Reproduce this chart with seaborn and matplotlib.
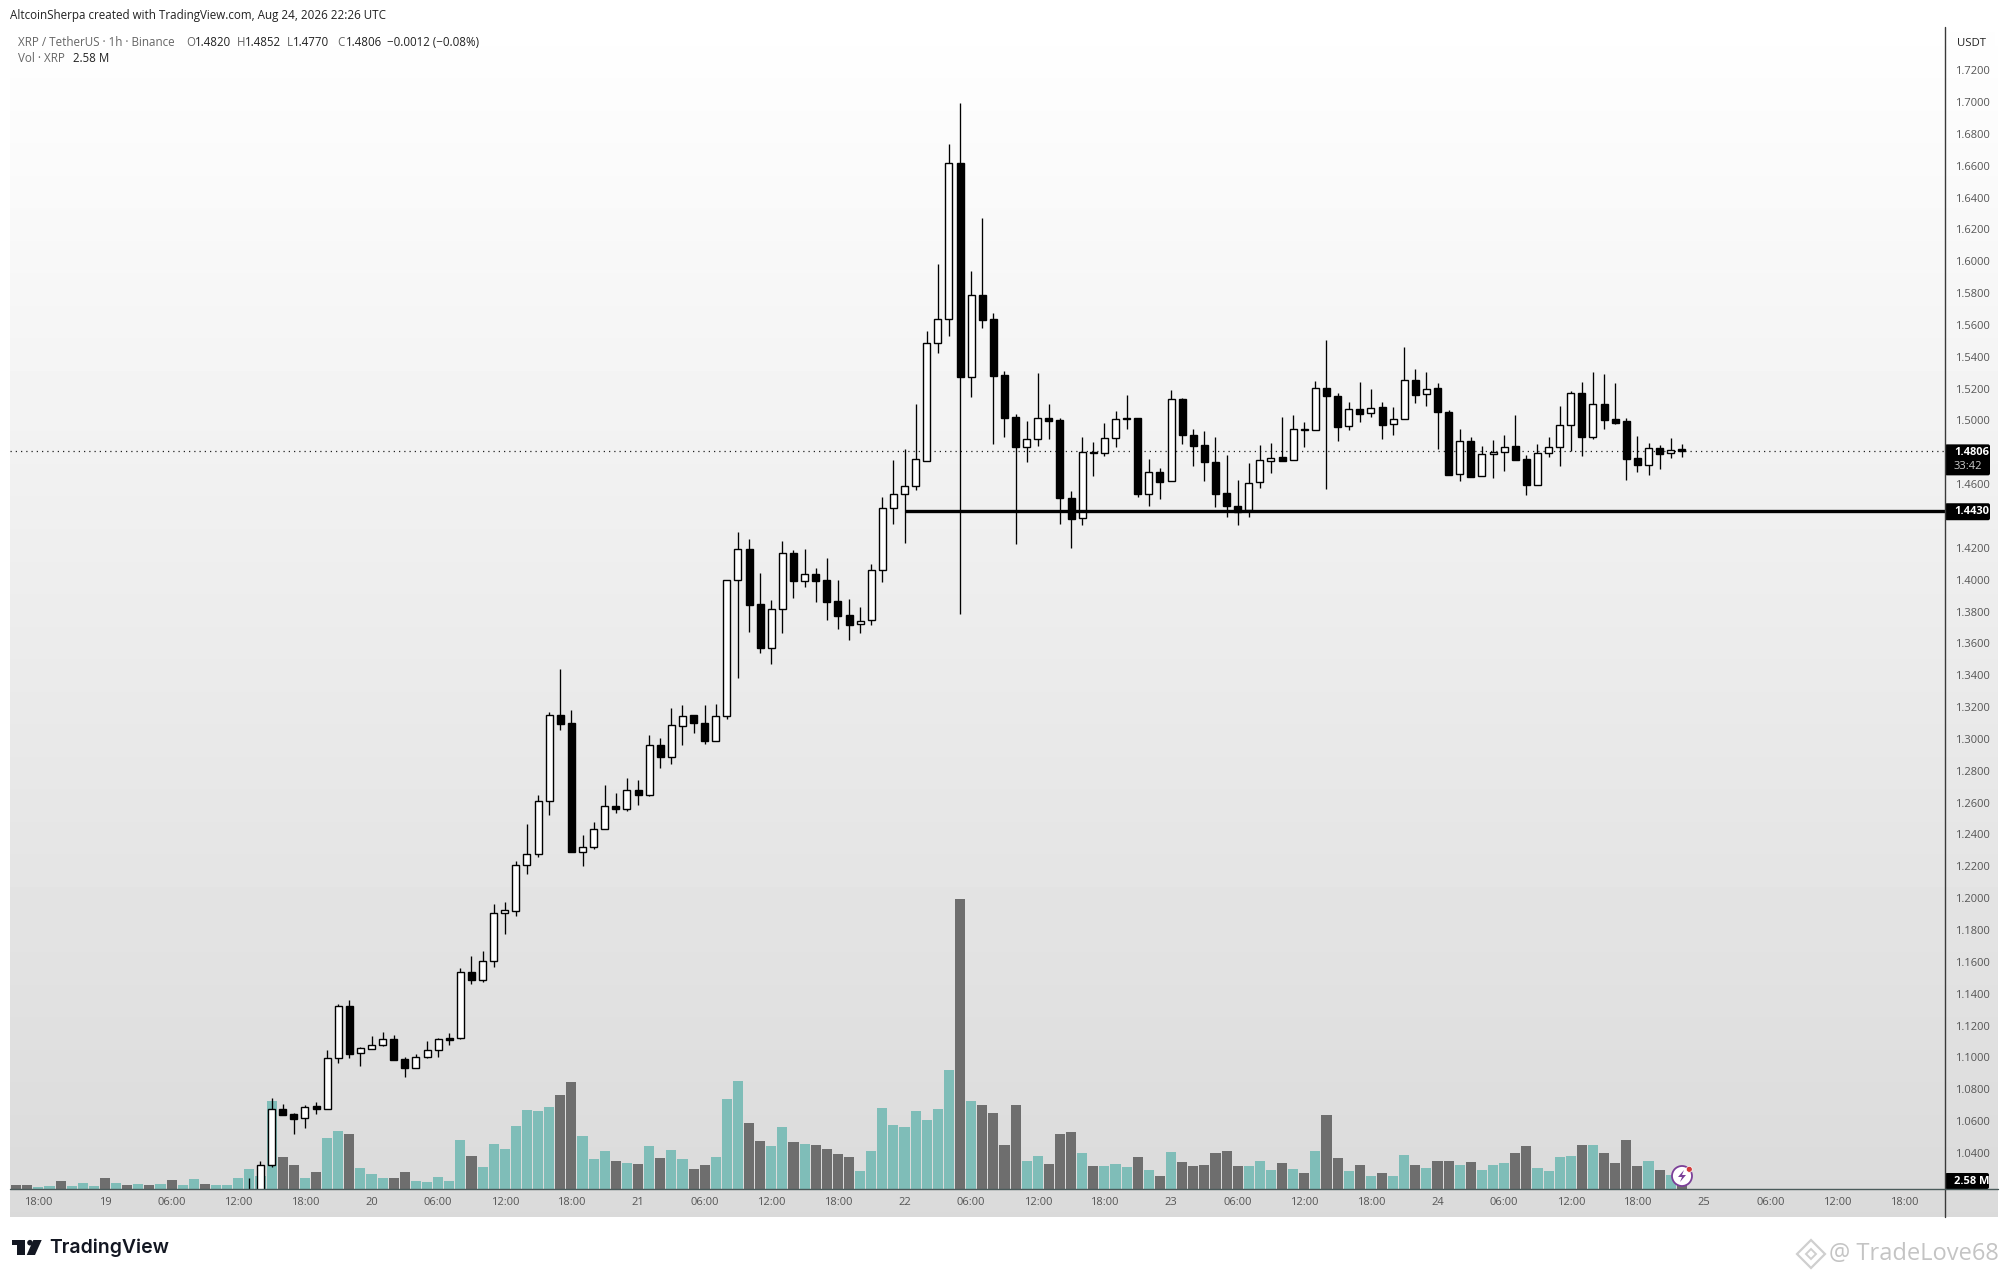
import numpy as np
import pandas as pd
import seaborn as sns
import matplotlib.pyplot as plt
from matplotlib.patches import Circle, FancyBboxPatch, Polygon

# candles start at hour 21, everything before sits under the visible range
first_candle = 21

opens = [
    1.0050, 1.0110, 1.0327, 1.0673, 1.0644, 1.0618, 1.0695, 1.0673, 1.0995, 1.1321,
    1.1026, 1.1054, 1.1076, 1.1114, 1.0988, 1.0935, 1.1001, 1.1045, 1.1122, 1.1120,
    1.1534, 1.1488, 1.1603, 1.1905, 1.1922, 1.2206, 1.2275, 1.2609, 1.3149, 1.3101,
    1.2292, 1.2319, 1.2433, 1.2576, 1.2559, 1.2680, 1.2651, 1.2961, 1.2889, 1.3084,
    1.3149, 1.3099, 1.2984, 1.3141, 1.3997, 1.4191, 1.3846, 1.3568, 1.3815, 1.4166,
    1.3995, 1.4034, 1.3997, 1.3867, 1.3779, 1.3724, 1.3745, 1.4058, 1.4451, 1.4540,
    1.4590, 1.4747, 1.5489, 1.5635, 1.6620, 1.5276, 1.5785, 1.5635, 1.5285, 1.5020,
    1.4834, 1.4881, 1.5018, 1.5002, 1.4516, 1.4390, 1.4798, 1.4798, 1.4888, 1.5016,
    1.5016, 1.4540, 1.4679, 1.4617, 1.5133, 1.4908, 1.4845, 1.4742, 1.4543, 1.4466,
    1.4439, 1.4612, 1.4747, 1.4771, 1.4750, 1.4940, 1.4938, 1.5202, 1.5152, 1.4963,
    1.5070, 1.5045, 1.5083, 1.4976, 1.5007, 1.5252, 1.5164, 1.5202, 1.5053, 1.4662,
    1.4871, 1.4649, 1.4788, 1.4800, 1.4838, 1.4756, 1.4597, 1.4794, 1.4836, 1.4970,
    1.5173, 1.4898, 1.5101, 1.5007, 1.4997, 1.4762, 1.4723, 1.4825, 1.4794, 1.4820,
]
highs = [
    1.0243, 1.0349, 1.0744, 1.0706, 1.0650, 1.0700, 1.0717, 1.1048, 1.1334, 1.1358,
    1.1063, 1.1136, 1.1158, 1.1140, 1.1003, 1.1021, 1.1103, 1.1125, 1.1153, 1.1559,
    1.1638, 1.1669, 1.1962, 1.1977, 1.2233, 1.2466, 1.2651, 1.3167, 1.3438, 1.3180,
    1.2398, 1.2480, 1.2711, 1.2660, 1.2755, 1.2743, 1.3025, 1.3009, 1.3195, 1.3216,
    1.3149, 1.3216, 1.3220, 1.3997, 1.4300, 1.4256, 1.4045, 1.3873, 1.4244, 1.4187,
    1.4195, 1.4072, 1.4139, 1.3999, 1.3879, 1.3831, 1.4099, 1.4518, 1.4751, 1.4819,
    1.5106, 1.5561, 1.5980, 1.6734, 1.6992, 1.5938, 1.6272, 1.5673, 1.5310, 1.5038,
    1.4996, 1.5299, 1.5101, 1.5016, 1.4556, 1.4895, 1.4863, 1.4985, 1.5061, 1.5159,
    1.5016, 1.4760, 1.4702, 1.5191, 1.5142, 1.4949, 1.4933, 1.4895, 1.4783, 1.4626,
    1.4733, 1.4843, 1.4859, 1.5022, 1.5034, 1.4991, 1.5248, 1.5505, 1.5175, 1.5116,
    1.5242, 1.5198, 1.5114, 1.5085, 1.5464, 1.5321, 1.5304, 1.5238, 1.5066, 1.4947,
    1.4896, 1.4842, 1.4878, 1.4909, 1.5034, 1.4783, 1.4852, 1.4896, 1.5091, 1.5187,
    1.5242, 1.5304, 1.5292, 1.5235, 1.5014, 1.4903, 1.4857, 1.4844, 1.4890, 1.4852,
]
lows = [
    1.0000, 1.0060, 1.0314, 1.0640, 1.0519, 1.0558, 1.0647, 1.0673, 1.0964, 1.0997,
    1.0948, 1.1052, 1.1070, 1.0986, 1.0878, 1.0933, 1.0999, 1.1004, 1.1078, 1.1118,
    1.1464, 1.1475, 1.1567, 1.1775, 1.1889, 1.2149, 1.2259, 1.2524, 1.3057, 1.2292,
    1.2204, 1.2308, 1.2433, 1.2535, 1.2546, 1.2586, 1.2642, 1.2820, 1.2843, 1.2963,
    1.3040, 1.2969, 1.2984, 1.3128, 1.3383, 1.3674, 1.3542, 1.3473, 1.3668, 1.3886,
    1.3957, 1.3863, 1.3748, 1.3691, 1.3624, 1.3664, 1.3716, 1.3984, 1.4350, 1.4231,
    1.4563, 1.4747, 1.5424, 1.5532, 1.3782, 1.5146, 1.5581, 1.4854, 1.4895, 1.4226,
    1.4742, 1.4841, 1.4886, 1.4350, 1.4202, 1.4343, 1.4650, 1.4778, 1.4832, 1.4949,
    1.4518, 1.4460, 1.4507, 1.4617, 1.4854, 1.4715, 1.4619, 1.4457, 1.4395, 1.4343,
    1.4395, 1.4579, 1.4671, 1.4746, 1.4750, 1.4836, 1.4938, 1.4572, 1.4873, 1.4940,
    1.4993, 1.5024, 1.4886, 1.4909, 1.5007, 1.5112, 1.5091, 1.4819, 1.4660, 1.4622,
    1.4643, 1.4649, 1.4641, 1.4683, 1.4752, 1.4534, 1.4597, 1.4771, 1.4716, 1.4808,
    1.4779, 1.4886, 1.4949, 1.4980, 1.4626, 1.4677, 1.4658, 1.4695, 1.4767, 1.4770,
]
closes = [
    1.0120, 1.0327, 1.0673, 1.0640, 1.0616, 1.0691, 1.0673, 1.0995, 1.1321, 1.1023,
    1.1056, 1.1076, 1.1114, 1.0986, 1.0935, 1.1001, 1.1045, 1.1114, 1.1112, 1.1534,
    1.1488, 1.1603, 1.1905, 1.1927, 1.2206, 1.2275, 1.2609, 1.3149, 1.3096, 1.2292,
    1.2319, 1.2433, 1.2576, 1.2557, 1.2678, 1.2651, 1.2961, 1.2889, 1.3086, 1.3143,
    1.3097, 1.2984, 1.3141, 1.3997, 1.4195, 1.3844, 1.3568, 1.3815, 1.4166, 1.3995,
    1.4034, 1.3995, 1.3863, 1.3775, 1.3718, 1.3743, 1.4059, 1.4451, 1.4540, 1.4590,
    1.4756, 1.5489, 1.5635, 1.6620, 1.5276, 1.5785, 1.5633, 1.5281, 1.5018, 1.4834,
    1.4881, 1.5018, 1.4998, 1.4516, 1.4383, 1.4805, 1.4805, 1.4888, 1.5007, 1.5007,
    1.4540, 1.4679, 1.4614, 1.5133, 1.4910, 1.4841, 1.4740, 1.4540, 1.4462, 1.4428,
    1.4610, 1.4749, 1.4767, 1.4746, 1.4944, 1.4944, 1.5202, 1.5156, 1.4961, 1.5070,
    1.5043, 1.5081, 1.4974, 1.5007, 1.5252, 1.5162, 1.5200, 1.5055, 1.4660, 1.4869,
    1.4647, 1.4788, 1.4800, 1.4836, 1.4752, 1.4597, 1.4794, 1.4836, 1.4970, 1.5171,
    1.4898, 1.5101, 1.5005, 1.4984, 1.4760, 1.4723, 1.4825, 1.4792, 1.4813, 1.4806,
]

# volume in millions of XRP
volumes = [
    1.6, 1.6, 0.9, 1.25, 3.1, 1.25, 2.4, 1.25, 4.25, 2.4,
    1.6, 2.0, 1.6, 2.0, 3.5, 1.6, 3.9, 2.0, 1.6, 1.6,
    4.25, 7.6, 5.0, 33.1, 12.1, 9.1, 4.25, 6.5, 19.25, 21.9,
    20.75, 8.0, 5.75, 4.25, 4.25, 6.5, 3.1, 2.75, 4.6, 3.1,
    18.5, 12.5, 8.4, 17.0, 15.1, 23.75, 29.75, 29.4, 30.9, 35.4,
    40.25, 20.0, 11.4, 14.4, 10.6, 9.9, 9.5, 16.25, 11.75, 14.75,
    11.4, 7.6, 9.1, 12.1, 33.9, 40.6, 24.9, 18.1, 16.25, 23.4,
    17.75, 17.0, 16.6, 15.1, 13.25, 12.1, 6.9, 14.4, 30.5, 24.1,
    23.4, 29.4, 26.0, 30.1, 44.75, 108.7, 33.1, 31.6, 28.6, 16.6,
    31.6, 10.6, 12.5, 9.5, 20.75, 21.5, 13.6, 8.75, 8.75, 9.5,
    8.4, 12.1, 7.25, 5.0, 14.0, 10.25, 8.75, 9.1, 13.6, 14.4,
    8.75, 8.75, 10.6, 7.25, 9.9, 7.6, 6.1, 14.4, 27.9, 11.75,
    6.9, 9.1, 5.0, 6.1, 5.0, 12.9, 9.1, 8.0, 10.6, 10.6,
    9.1, 10.25, 7.25, 9.1, 9.9, 13.6, 16.25, 8.0, 6.9, 12.1,
    12.5, 16.6, 16.6, 13.6, 9.9, 18.5, 8.75, 10.6, 7.25, 5.4,
    2.58,
]
# u = teal bar, d = grey bar, ten hours a row
volume_side = list(
    "dduuduuudu"
    "dududuuduu"
    "uuuudduduu"
    "duuudduuuu"
    "uduuuuuuud"
    "duuudududu"
    "udduuudduu"
    "dudddduuuu"
    "uuuuududdd"
    "duuddduduu"
    "udududdddd"
    "duuudududd"
    "ududuududd"
    "uduuudduuu"
    "ududdddudu"
    "d"
)

tick_hours = [2, 8, 14, 20, 26, 32, 38, 44, 50, 56, 62, 68, 74, 80, 86, 92, 98, 104,
              110, 116, 122, 128, 134, 140, 146, 152, 158, 164, 170]
tick_names = ["18:00", "19", "06:00", "12:00", "18:00", "20", "06:00", "12:00", "18:00",
              "21", "06:00", "12:00", "18:00", "22", "06:00", "12:00", "18:00", "23",
              "06:00", "12:00", "18:00", "24", "06:00", "12:00", "18:00", "25", "06:00",
              "12:00", "18:00"]
# 1.44 and 1.48 sit under the price tags and are not shown
price_ticks = [1.04, 1.06, 1.08, 1.10, 1.12, 1.14, 1.16, 1.18, 1.20, 1.22, 1.24, 1.26,
               1.28, 1.30, 1.32, 1.34, 1.36, 1.38, 1.40, 1.42, 1.46, 1.50,
               1.52, 1.54, 1.56, 1.58, 1.60, 1.62, 1.64, 1.66, 1.68, 1.70, 1.72]
last_price = 1.4806
support = 1.4430
support_start = 80

W, H = 2009, 1277
TEAL = "#7fbdb8"
GREY = "#6e6e6e"
TEXT = "#555555"

sns.set_theme(style="white")
plt.rcParams["font.family"] = ["Open Sans", "DejaVu Sans"]

fig = plt.figure(figsize=(W / 100, H / 100), dpi=100, facecolor="white")


def px_axes(left, top, right, bottom):
    return fig.add_axes([left / W, 1 - bottom / H, (right - left) / W, (bottom - top) / H])


# pane background, also runs under the two scales
bg = px_axes(10, 27, 1998, 1217)
bg.imshow(np.linspace(0.998, 0.855, 256)[:, None], aspect="auto", cmap="gray", vmin=0, vmax=1)
bg.axis("off")

x_limits = (-0.558, 173.7)

# volume goes on its own axes under the candles
vol_ax = px_axes(10, 27, 1945, 1189)
vol_df = pd.DataFrame({"hour": np.arange(len(volumes)), "volume": volumes, "side": volume_side})
sns.barplot(data=vol_df, x="hour", y="volume", hue="side", palette={"u": TEAL, "d": GREY},
            native_scale=True, dodge=False, width=0.91, saturation=1, linewidth=0,
            legend=False, ax=vol_ax)
vol_ax.set_xlim(*x_limits)
vol_ax.set_ylim(0, 435.75)
vol_ax.patch.set_alpha(0)
vol_ax.axis("off")

ax = px_axes(10, 27, 1945, 1189)
ax.patch.set_alpha(0)
hours = np.arange(first_candle, first_candle + len(opens))
o, h, l, c = map(np.array, (opens, highs, lows, closes))
bottoms = np.minimum(o, c)
colors = np.where(c >= o, "white", "black")

ax.axhline(last_price, color="#222222", lw=0.9, ls=(0, (1, 3.2)), zorder=1)
ax.vlines(hours, l, h, color="black", lw=0.95, zorder=2)
ax.bar(hours, np.abs(c - o), bottom=bottoms, width=0.63, color=colors, edgecolor="black",
       linewidth=1.0, zorder=3)
ax.hlines(support, support_start, x_limits[1], color="black", lw=2.4, zorder=4)

ax.set_xlim(*x_limits)
ax.set_ylim(1.01736, 1.7471)
ax.set_xticks(tick_hours, tick_names)
ax.set_yticks(price_ticks, [f"{p:.4f}" for p in price_ticks])
ax.yaxis.tick_right()
ax.tick_params(axis="x", length=0, pad=6, labelsize=8, labelcolor=TEXT)
ax.tick_params(axis="y", length=0, pad=7, labelsize=8, labelcolor=TEXT)
for side in ax.spines.values():
    side.set_visible(False)

# chrome in plain pixel coordinates
top = fig.add_axes([0, 0, 1, 1], zorder=10)
top.set_xlim(0, W)
top.set_ylim(H, 0)
top.axis("off")
top.plot([1945, 1945], [27, 1217], color="#3a3a3a", lw=1.0)
top.plot([10, 1998], [1189, 1189], color="#4a5a5a", lw=1.0)


def put(x, y, s, color="#222222", size=8.3, **kw):
    top.text(x, y, s, color=color, fontsize=size, va="center", **kw)


def price_y(price):
    return H - ax.transData.transform((0, price))[1]


def tag(y0, y1, right=1990):
    top.add_patch(FancyBboxPatch((1947, y0 + 2), right - 1949, y1 - y0 - 4, color="black",
                                 boxstyle="round,pad=2", lw=0))


# header and legend
put(10, 15, "AltcoinSherpa created with TradingView.com, Aug 24, 2026 22:26 UTC", size=8.35)
put(18, 42, "XRP / TetherUS · 1h · Binance", color="#666666", size=8.4)
for x_label, x_value, label, value in [(186, 195, "O", "1.4820"), (237, 245, "H", "1.4852"),
                                       (287, 293, "L", "1.4770"), (337, 346, "C", "1.4806")]:
    put(x_label, 42, label, color="#666666")
    put(x_value, 42, value)
put(387, 42, "−0.0012 (−0.08%)")
put(18, 59, "Vol · XRP", color="#666666", size=8.4)
put(73, 59, "2.58 M")

# right scale tags
top.add_patch(FancyBboxPatch((1952, 34), 41, 20, color="#fefefe", boxstyle="round,pad=2", lw=0))
put(1972, 44, "USDT", ha="center", size=8.2)

y_last = price_y(last_price)
tag(y_last - 7, y_last + 24)
put(1954, y_last + 1, f"{last_price:.4f}", color="white", weight="bold", size=8)
put(1954, y_last + 15, "33:42", color="#cccccc", size=8)

y_sup = price_y(support)
tag(y_sup - 8, y_sup + 9)
put(1954, y_sup, f"{support:.4f}", color="white", weight="bold", size=8)

tag(1173, 1189, right=1989)
put(1954, 1182, "2.58 M", color="white", weight="bold", size=8)

# flash marker on the last volume bar
top.add_patch(Circle((1682, 1176), 10, fc="white", ec="#7b3f98", lw=1.3))
top.add_patch(Polygon([(1684, 1170), (1678, 1177), (1682, 1177), (1680, 1182), (1686, 1175),
                       (1682, 1175)], fc="#7b3f98", lw=0))
top.add_patch(Circle((1689.3, 1169.3), 3, fc="#d23c3c", ec="white", lw=0.5))

# TradingView logo
logo = "#131722"
top.add_patch(Polygon([(11.7, 1240), (25, 1240), (25, 1255), (16.7, 1255), (16.7, 1245),
                       (11.7, 1245)], fc=logo, lw=0))
top.add_patch(Circle((30, 1242.7), 2.8, fc=logo, lw=0))
top.add_patch(Polygon([(41.7, 1240), (33.3, 1240), (26.7, 1255), (35, 1255)], fc=logo, lw=0))
put(49, 1248, "TradingView", color=logo, size=14, family="Inter", weight="semibold")

# watermark
wm = "#cfcfcf"
top.add_patch(Polygon([(1811, 1240), (1825, 1254), (1811, 1268), (1797, 1254)], fc="none", ec=wm, lw=1.6))
top.add_patch(Polygon([(1811, 1249), (1816, 1254), (1811, 1259), (1806, 1254)], fc="none", ec=wm, lw=1.4))
put(1829, 1254, "@ TradeLove68", color="#c4c4c4", size=17)

fig.savefig("out.png", dpi=100)
plt.close(fig)
